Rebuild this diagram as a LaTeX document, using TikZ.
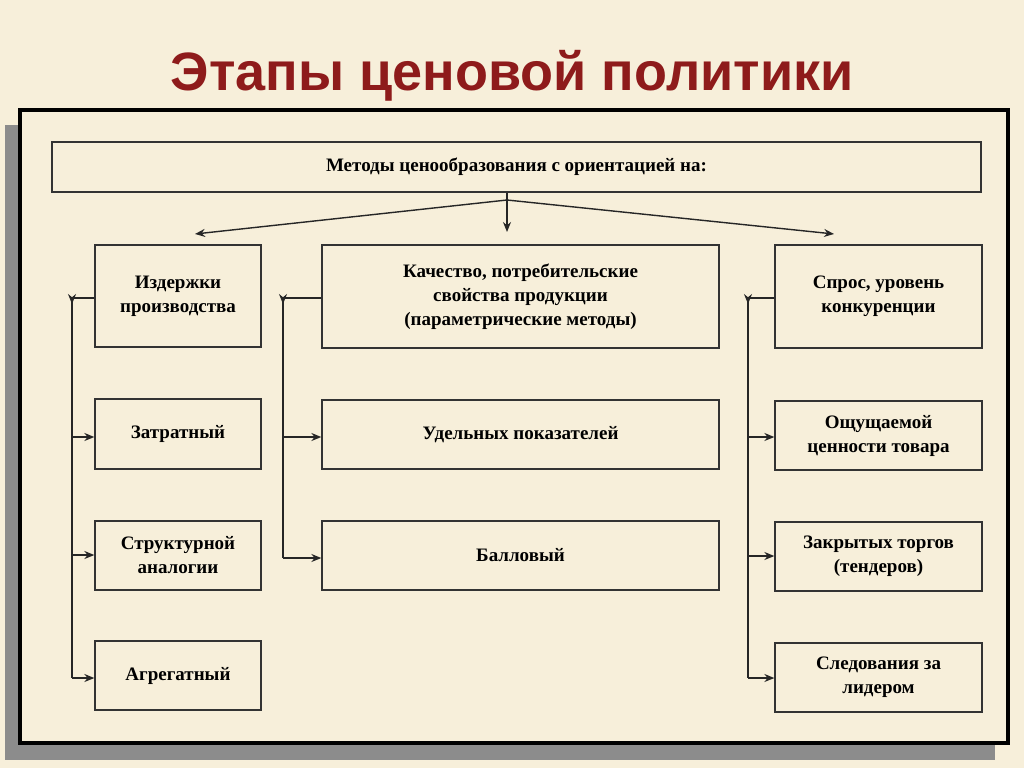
\documentclass[tikz,border=0pt]{standalone}
\usepackage{fontspec}
\setmainfont{Liberation Serif}
\newfontfamily\titlefont{Liberation Sans}
\usetikzlibrary{arrows.meta}
\definecolor{bg}{HTML}{F7EFDA}
\definecolor{ttl}{HTML}{8E1B1B}
\begin{document}
\begin{tikzpicture}[x=1pt,y=-1pt,
  box/.style={draw=black!80,line width=1.3pt,align=center,font=\bfseries\fontsize{19}{24}\selectfont,inner sep=2pt},
  con/.style={line width=1.4pt,draw=black!85},
  arr/.style={con,-{Stealth[length=10pt,width=8pt]}}]
\useasboundingbox (0,0) rectangle (1024,768);
\fill[bg] (0,0) rectangle (1024,768);
\node[font=\titlefont\bfseries\fontsize{54}{60}\selectfont,text=ttl] (title) at (512,76) {Этапы ценовой политики};
\fill[black!45] (5,125) rectangle (995,760);
\draw[line width=4pt,fill=bg] (20,110) rectangle (1008,743);
\node[box,minimum width=929pt,minimum height=50pt] (top) at (516.5,167) {Методы ценообразования с ориентацией на:};
% left
\node[box,minimum width=166pt,minimum height=102pt] (l1) at (178,296) {Издержки\\производства};
\node[box,minimum width=166pt,minimum height=70pt] (l2) at (178,434) {Затратный};
\node[box,minimum width=166pt,minimum height=69pt] (l3) at (178,555.5) {Структурной\\аналогии};
\node[box,minimum width=166pt,minimum height=69pt] (l4) at (178,675.5) {Агрегатный};
% middle
\node[box,minimum width=397pt,minimum height=103pt] (m1) at (520.5,296.5) {Качество, потребительские\\свойства продукции\\(параметрические методы)};
\node[box,minimum width=397pt,minimum height=69pt] (m2) at (520.5,434.5) {Удельных показателей};
\node[box,minimum width=397pt,minimum height=69pt] (m3) at (520.5,555.5) {Балловый};
% right
\node[box,minimum width=207pt,minimum height=103pt] (r1) at (878.5,296.5) {Спрос, уровень\\конкуренции};
\node[box,minimum width=207pt,minimum height=69pt] (r2) at (878.5,435.5) {Ощущаемой\\ценности товара};
\node[box,minimum width=207pt,minimum height=69pt] (r3) at (878.5,556.5) {Закрытых торгов\\(тендеров)};
\node[box,minimum width=207pt,minimum height=69pt] (r4) at (878.5,677.5) {Следования за\\лидером};
% top connectors
\coordinate (hub) at (507,200);
\draw[con] (top.south -| hub) -- (hub);
\draw[arr] (hub) -- (195,234);
\draw[arr] (hub) -- (834,234);
\draw[arr] (hub) -- (507,232);
% left bracket
\draw[arr] (l1.west |- 0,298) -- (72,298) -- (72,304);
\draw[con] (72,298) -- (72,678);
\draw[arr] (72,437) -- (l2.west |- 0,437);
\draw[arr] (72,555) -- (l3.west |- 0,555);
\draw[arr] (72,678) -- (l4.west |- 0,678);
% middle bracket
\draw[arr] (m1.west |- 0,298) -- (283,298) -- (283,304);
\draw[con] (283,298) -- (283,558);
\draw[arr] (283,437) -- (m2.west |- 0,437);
\draw[arr] (283,558) -- (m3.west |- 0,558);
% right bracket
\draw[arr] (r1.west |- 0,298) -- (748,298) -- (748,304);
\draw[con] (748,298) -- (748,678);
\draw[arr] (748,437) -- (r2.west |- 0,437);
\draw[arr] (748,556) -- (r3.west |- 0,556);
\draw[arr] (748,678) -- (r4.west |- 0,678);
\end{tikzpicture}
\end{document}
